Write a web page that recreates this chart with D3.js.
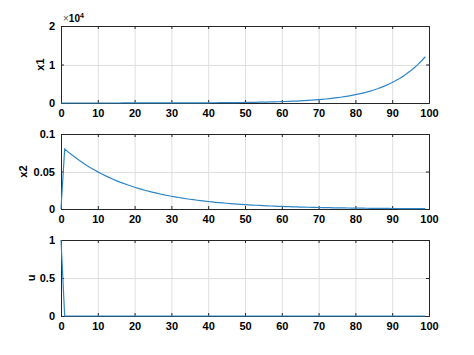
<!DOCTYPE html>
<html><head><meta charset="utf-8">
<script src="https://cdn.jsdelivr.net/npm/d3@7"></script>
<style>html,body{margin:0;padding:0;background:#fff;}svg{display:block;}</style>
</head><body>
<script>
const steps = [0,1,2,3,4,5,6,7,8,9,10,11,12,13,14,15,16,17,18,19,20,21,22,23,24,25,26,27,28,29,30,31,32,33,34,35,36,37,38,39,40,41,42,43,44,45,46,47,48,49,50,51,52,53,54,55,56,57,58,59,60,61,62,63,64,65,66,67,68,69,70,71,72,73,74,75,76,77,78,79,80,81,82,83,84,85,86,87,88,89,90,91,92,93,94,95,96,97,98,99];
const x1Values = [1.56,1.71,1.87,2.05,2.24,2.45,2.68,2.94,3.21,3.52,3.85,4.21,4.61,5.05,5.53,6.05,6.62,7.25,7.94,8.69,9.51,10.41,11.39,12.47,13.65,14.94,16.35,17.90,19.59,21.45,23.47,25.70,28.13,30.79,33.70,36.89,40.38,44.20,48.38,52.96,57.97,63.46,69.46,76.03,83.23,91.10,99.72,109.2,119.5,130.8,143.1,156.7,171.5,187.7,205.5,224.9,246.2,269.5,295.0,322.9,353.5,386.9,423.5,463.6,507.5,555.5,608.0,665.5,728.5,797.4,872.9,955.4,1045.8,1144.8,1253.1,1371.6,1501.4,1643.4,1798.9,1969.1,2155.4,2359.3,2582.5,2826.8,3094.2,3386.9,3707.3,4058.0,4441.9,4862.1,5322.1,5825.6,6376.7,6980.0,7640.3,8363.1,9154.2,10020,10968,12006];
const x2Values = [0,0.0800,0.0758,0.0719,0.0682,0.0646,0.0613,0.0581,0.0550,0.0522,0.0495,0.0469,0.0445,0.0422,0.0400,0.0379,0.0359,0.0341,0.0323,0.0306,0.0290,0.0275,0.0261,0.0247,0.0234,0.0222,0.0211,0.0200,0.0189,0.0180,0.0170,0.0161,0.0153,0.0145,0.0137,0.0130,0.0124,0.0117,0.0111,0.0105,0.0100,0.00945,0.00896,0.00849,0.00805,0.00763,0.00724,0.00686,0.00650,0.00617,0.00584,0.00554,0.00525,0.00498,0.00472,0.00447,0.00424,0.00402,0.00381,0.00361,0.00343,0.00325,0.00308,0.00292,0.00277,0.00262,0.00249,0.00236,0.00223,0.00212,0.00201,0.00190,0.00180,0.00171,0.00162,0.00154,0.00146,0.00138,0.00131,0.00124,0.00118,0.00112,0.00106,0.00100,0.00095,0.00090,0.00085,0.00081,0.00077,0.00073,0.00069,0.00065,0.00062,0.00059,0.00056,0.00053,0.00050,0.00047,0.00045,0.00042];
const uValues = [1,0,0,0,0,0,0,0,0,0,0,0,0,0,0,0,0,0,0,0,0,0,0,0,0,0,0,0,0,0,0,0,0,0,0,0,0,0,0,0,0,0,0,0,0,0,0,0,0,0,0,0,0,0,0,0,0,0,0,0,0,0,0,0,0,0,0,0,0,0,0,0,0,0,0,0,0,0,0,0,0,0,0,0,0,0,0,0,0,0,0,0,0,0,0,0,0,0,0,0];
const xTicks = [0,10,20,30,40,50,60,70,80,90,100];
const x1Ticks = [0,10000,20000], x1TickLabels = ["0","1","2"];
const x2Ticks = [0,0.05,0.1], x2TickLabels = ["0","0.05","0.1"];
const uTicks = [0,0.5,1], uTickLabels = ["0","0.5","1"];
const yNames = ["x1","x2","u"];

const W = 474, H = 355;
const svg = d3.select("body").append("svg").attr("width", W).attr("height", H);
svg.append("rect").attr("width", W).attr("height", H).attr("fill", "#fff");

const left = 61, right = 429;
const x = d3.scaleLinear().domain([0,100]).range([left, right]);
const FONT = "'Liberation Sans', Arial, Helvetica, sans-serif";
const AX = "#262626";

const panels = [
  {top:26, bottom:103, domain:[0,20000], ticks:x1Ticks, labels:x1TickLabels, vals:x1Values, name:yNames[0], nameX:40, exp:true},
  {top:134, bottom:209, domain:[0,0.1], ticks:x2Ticks, labels:x2TickLabels, vals:x2Values, name:yNames[1], nameX:23},
  {top:240, bottom:316, domain:[0,1], ticks:uTicks, labels:uTickLabels, vals:uValues, name:yNames[2], nameX:31}
];

panels.forEach(p => {
  const y = d3.scaleLinear().domain(p.domain).range([p.bottom, p.top]);
  const g = svg.append("g");
  // grid
  g.selectAll(".gx").data(xTicks.slice(1,-1)).enter().append("line")
    .attr("x1", d=>x(d)+0.5).attr("x2", d=>x(d)+0.5).attr("y1", p.top).attr("y2", p.bottom)
    .attr("stroke", "#dfdfdf").attr("stroke-width", 1);
  g.selectAll(".gy").data(p.ticks.slice(1,-1)).enter().append("line")
    .attr("x1", left).attr("x2", right).attr("y1", d=>Math.round(y(d))+0.5).attr("y2", d=>Math.round(y(d))+0.5)
    .attr("stroke", "#dfdfdf").attr("stroke-width", 1);
  // axes
  const xa = d3.axisBottom(x).tickValues(xTicks).tickSize(-3).tickPadding(6).tickFormat(d3.format("d"));
  g.append("g").attr("transform", `translate(0,${p.bottom})`).call(xa);
  const xt = d3.axisTop(x).tickValues(xTicks).tickSize(-3).tickFormat("");
  g.append("g").attr("transform", `translate(0,${p.top})`).call(xt);
  const ya = d3.axisLeft(y).tickValues(p.ticks).tickSize(-3).tickPadding(6).tickFormat((d,i)=>p.labels[i]);
  g.append("g").attr("transform", `translate(${left},0)`).call(ya);
  const yr = d3.axisRight(y).tickValues(p.ticks).tickSize(-3).tickFormat("");
  g.append("g").attr("transform", `translate(${right},0)`).call(yr);
  g.selectAll(".domain").attr("stroke", AX).attr("stroke-width", 1);
  g.selectAll(".tick line").attr("stroke", AX);
  g.selectAll(".tick text").attr("fill", "#000").style("font-family", FONT)
    .style("font-size", "11px").style("font-weight", "bold");
  // data line (on top of axes, as in the reference)
  const line = d3.line().x((d,i)=>x(steps[i])).y(d=>y(d));
  g.append("path").datum(p.vals).attr("d", line).attr("fill","none")
    .attr("stroke","#2f86c6").attr("stroke-width",1.2);
  // y label
  g.append("text").attr("transform", `translate(${p.nameX},${(p.top+p.bottom)/2}) rotate(-90)`)
    .attr("text-anchor","middle").attr("dy","0.35em")
    .style("font-family", FONT).style("font-size","11px").style("font-weight","bold")
    .text(p.name);
  if (p.exp) {
    const t = g.append("text").attr("x", left+2).attr("y", p.top-4)
      .style("font-family", FONT).style("font-size","10px").attr("fill","#000");
    t.append("tspan").attr("fill","#555").text("×");
    t.append("tspan").style("font-weight","bold").text("10");
    t.append("tspan").attr("dy","-4").style("font-size","7px").style("font-weight","bold").text("4");
  }
});
</script>
</body></html>
